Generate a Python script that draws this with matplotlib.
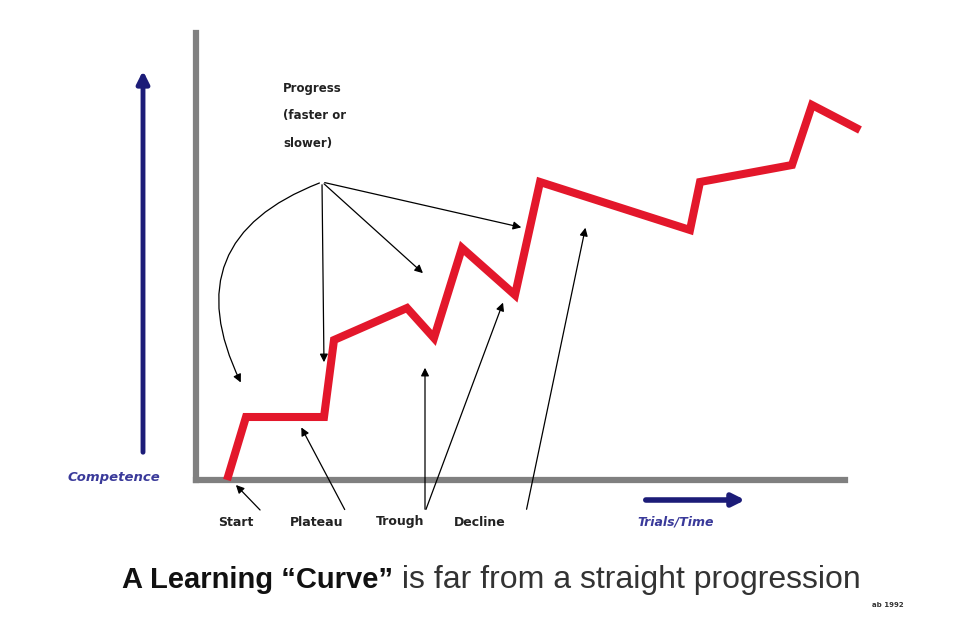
import matplotlib
matplotlib.use('Agg')
import matplotlib.pyplot as plt
from matplotlib.patches import FancyArrowPatch

# learning curve (x = trials/time, y = competence), origin at the axes corner
curve_x = [31, 50, 128, 138, 211, 238, 266, 319, 344, 494, 504, 596, 616, 664]
curve_y = [0, 63, 63, 140, 172, 142, 232, 185, 298, 250, 298, 315, 375, 350]

# arrows from "Progress" note: tail, head
progress_tail = (126, 298)
progress_heads = [(128, 115), (229, 205), (328, 252)]
progress_curved_head = (46, 95)

labels = ['Start', 'Plateau', 'Trough', 'Decline']
label_x = [22, 94, 180, 258]
# label arrows: tail (below axis) -> head
label_arrows = [((66, -32), (38, -3)),
                ((150, -32), (104, 55)),
                ((229, -32), (229, 115)),
                ((229, -32), (308, 180)),
                ((330, -32), (390, 255))]

W, H = 972, 634
fig = plt.figure(figsize=(W / 100, H / 100), dpi=100)
ax = fig.add_axes([196 / W, 1 - 480 / H, (845 - 196) / W, (480 - 33) / H])
ax.set_xlim(0, 649)
ax.set_ylim(0, 447)
for s in ['top', 'right']:
    ax.spines[s].set_visible(False)
for s in ['left', 'bottom']:
    ax.spines[s].set_color('#808080')
    ax.spines[s].set_linewidth(4.5)
ax.set_xticks([])
ax.set_yticks([])
ax.patch.set_alpha(0)

ax.plot(curve_x, curve_y, color='#e3172b', lw=5.8, solid_joinstyle='miter',
        solid_capstyle='butt', clip_on=False, zorder=3)

aprops = dict(arrowstyle='-|>', color='black', lw=0.9, mutation_scale=12)
for hx, hy in progress_heads:
    ax.annotate('', xy=(hx, hy), xytext=progress_tail, arrowprops=aprops,
                annotation_clip=False)
ax.annotate('', xy=progress_curved_head, xytext=progress_tail,
            arrowprops=dict(connectionstyle='arc3,rad=0.55', **aprops),
            annotation_clip=False)
for tail, head in label_arrows:
    ax.annotate('', xy=head, xytext=tail, arrowprops=aprops,
                annotation_clip=False)

for lab, lx in zip(labels, label_x):
    ax.text(lx, -42, lab, fontsize=9, fontweight='bold', family='DejaVu Sans',
            va='center', ha='left', color='#222222', clip_on=False)

ax.text(87, 398, 'Progress\n(faster or\nslower)', fontsize=8.5, fontweight='bold',
        va='top', ha='left', color='#222222', linespacing=2.45, family='DejaVu Sans')

# blue axis arrows and labels (figure coords)
fig.patches.append(FancyArrowPatch(
    (143 / W, 1 - 455 / H), (143 / W, 1 - 68 / H), transform=fig.transFigure,
    arrowstyle='-|>', mutation_scale=18, lw=3.5, color='#1c1c78'))
fig.patches.append(FancyArrowPatch(
    (643 / W, 1 - 500 / H), (748 / W, 1 - 500 / H), transform=fig.transFigure,
    arrowstyle='-|>', mutation_scale=18, lw=4, color='#1c1c78'))
fig.text(68 / W, 1 - 477 / H, 'Competence', fontsize=9.5, style='italic',
         fontweight='bold', color='#3a3a9a', va='center', ha='left')
fig.text(637 / W, 1 - 522 / H, 'Trials/Time', fontsize=9, style='italic',
         fontweight='bold', color='#3a3a9a', va='center', ha='left')

# title: bold part then normal part on the same baseline
base_y = 1 - 588 / H
t1 = fig.text(122 / W, base_y, 'A Learning \u201cCurve\u201d', fontsize=21,
              fontweight='bold', family='Liberation Sans', color='#111111',
              va='baseline', ha='left')
fig.canvas.draw()
bb = t1.get_window_extent()
fig.text(bb.x1 / W, base_y, ' is far from a straight progression', fontsize=23,
         family='Liberation Sans', color='#333333', va='baseline', ha='left')

fig.text(872 / W, 1 - 605 / H, 'ab 1992', fontsize=5, fontweight='bold',
         color='#333333', va='center', ha='left')

fig.savefig('out.png', dpi=100, facecolor='white')
